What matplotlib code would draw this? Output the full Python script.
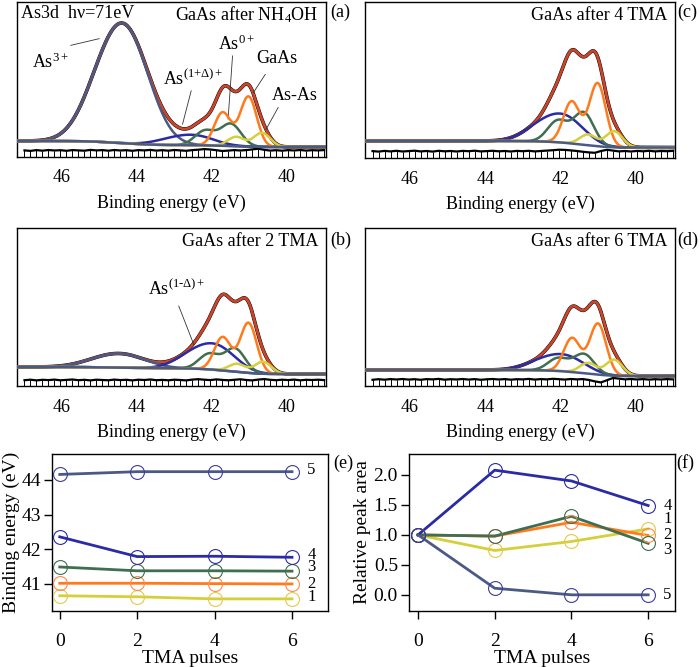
import numpy as np
import matplotlib
matplotlib.use('Agg')
import matplotlib.pyplot as plt

plt.rcParams['font.family'] = ['Liberation Serif', 'DejaVu Serif']
plt.rcParams['mathtext.fontset'] = 'custom'
plt.rcParams['mathtext.rm'] = 'Liberation Serif'
plt.rcParams['mathtext.it'] = 'Liberation Serif:italic'
plt.rcParams['font.size'] = 13

# (e) binding energies of the 3d5/2 components vs TMA pulses
pulses = [0, 2, 4, 6]
be_1 = [40.66, 40.63, 40.57, 40.57]
be_2 = [41.02, 41.02, 41.01, 41.00]
be_3 = [41.49, 41.38, 41.38, 41.37]
be_4 = [42.36, 41.79, 41.80, 41.77]
be_5 = [44.16, 44.24, 44.24, 44.24]

# (f) relative peak areas
area_1 = [1.0, 0.74, 0.89, 1.10]
area_2 = [1.0, 0.98, 1.21, 0.99]
area_3 = [1.0, 0.98, 1.31, 0.86]
area_4 = [1.0, 2.08, 1.90, 1.49]
area_5 = [1.0, 0.11, 0.00, 0.00]

amp_1 = [14, 12, 16, 16]
amp_2 = [50, 50, 63, 51]
amp_3 = [22, 23, 32, 19]
amp_4 = [8, 20, 22, 13]
amp_5 = [85, 10, 0, 0]
sigma = [0.22, 0.22, 0.27, 0.48, 0.58]
bg_left = [16, 19, 17, 16]
bg_right = [10, 12, 10.5, 10]
so_split = 0.69
so_ratio = 2 / 3

# fit residuals (sticks at bottom of each spectrum), 47 -> 39 eV
res_a = [6.6, 6.1, 6.9, 6.3, 7.0, 6.5, 6.8, 6.2, 6.9, 6.6,
         6.3, 7.1, 6.6, 6.9, 6.3, 7.0, 6.5, 6.8, 6.2, 6.9,
         6.6, 7.1, 6.4, 6.8, 6.3, 7.0, 6.6, 6.2, 6.9, 7.3,
         7.9, 7.5, 6.8, 6.0, 6.4, 6.9, 6.5, 6.9, 7.6, 8.3,
         7.2, 6.4, 6.8, 6.3, 6.9, 6.5, 7.0, 6.4, 6.8, 6.6, 6.9]
res_b = [5.8, 6.3, 5.6, 6.2, 5.9, 6.4, 5.7, 6.1, 6.5, 5.8,
         6.2, 5.6, 6.3, 6.0, 5.7, 6.4, 5.9, 6.2, 5.6, 6.3,
         6.0, 6.5, 5.8, 6.1, 5.7, 6.3, 6.0, 5.6, 6.4, 6.8,
         6.3, 5.9, 6.6, 6.1, 5.7, 6.2, 6.7, 6.0, 5.6, 6.4,
         6.9, 6.2, 5.8, 6.3, 5.9, 6.4, 5.7, 6.2, 6.0, 6.3, 5.9]
res_c = [6.9, 6.4, 7.1, 6.6, 7.2, 6.5, 6.9, 7.3, 6.6, 7.0,
         6.4, 7.2, 6.7, 7.0, 6.5, 7.1, 6.8, 7.3, 6.6, 6.9,
         7.2, 6.7, 7.0, 6.5, 7.1, 6.8, 7.2, 6.6, 7.0, 7.4,
         7.8, 8.3, 8.1, 7.6, 7.0, 6.2, 5.6, 5.2, 7.0, 8.2,
         7.4, 6.6, 7.0, 6.5, 7.1, 6.7, 7.2, 6.6, 7.0, 6.8, 7.1]
res_d = [6.2, 6.8, 6.3, 6.9, 6.5, 7.0, 6.4, 6.8, 6.2, 6.9,
         6.6, 7.1, 6.3, 6.8, 6.5, 7.0, 6.4, 6.9, 6.2, 6.7,
         7.0, 6.5, 6.9, 6.3, 6.8, 6.6, 7.1, 6.4, 6.9, 6.6,
         7.2, 6.8, 6.4, 7.0, 6.6, 6.9, 6.0, 4.6, 3.6, 5.8,
         8.0, 7.4, 6.6, 7.0, 6.5, 6.9, 6.4, 6.8, 6.5, 6.9, 6.6]

titles = ['GaAs after NH$_4$OH', 'GaAs after 2 TMA', 'GaAs after 4 TMA', 'GaAs after 6 TMA']
panel_tags = ['(a)', '(b)', '(c)', '(d)']
residuals = [res_a, res_b, res_c, res_d]

colors = ['#d6cf3c', '#ff7a1c', '#3f6e50', '#2b2ba6', '#4b5a84']
marker_colors = ['#e6c84e', '#ff8a4a', '#3f6e50', '#2b2ba6', '#3d3d9e']
env_color = '#c9452b'

be = [be_1, be_2, be_3, be_4, be_5]
amps = [amp_1, amp_2, amp_3, amp_4, amp_5]
areas = [area_1, area_2, area_3, area_4, area_5]

W, H = 700, 667
fig = plt.figure(figsize=(W / 100, H / 100), dpi=100)

def px_axes(l, t, r, b):
    return fig.add_axes([l / W, 1 - b / H, (r - l) / W, (b - t) / H])

ax_a = px_axes(17, 2, 326, 157)
ax_b = px_axes(17, 228, 326, 386)
ax_c = px_axes(365, 2, 675, 158)
ax_d = px_axes(365, 228, 675, 386)
ax_e = px_axes(52, 454, 328, 611)
ax_f = px_axes(409, 454, 675, 611)
spec_axes = [ax_a, ax_b, ax_c, ax_d]
tag_pos = [(330, 17), (330, 245), (677, 17), (677, 245)]

E = np.linspace(38.9, 47.3, 800)

def doublet(e0, a, s):
    return a * (np.exp(-(E - e0) ** 2 / (2 * s * s))
                + so_ratio * np.exp(-(E - e0 - so_split) ** 2 / (2 * s * s)))

for i, ax in enumerate(spec_axes):
    comps = [doublet(be[k][i], amps[k][i], sigma[k]) for k in range(5)]
    total = sum(comps)
    cum = np.cumsum(total)
    bg = bg_right[i] + (bg_left[i] - bg_right[i]) * cum / cum[-1]

    ax.plot(E, bg + total, color='k', lw=2.6, zorder=2)
    ax.plot(E, bg + total, color=env_color, lw=2.0, zorder=3)
    for k in [4, 3, 2, 1, 0]:
        if amps[k][i] > 0:
            ax.plot(E, bg + comps[k], color=colors[k], lw=1.8, zorder=4)
    ax.plot(E, bg, color=colors[4], lw=1.8, zorder=4)

    res = residuals[i]
    er = np.linspace(47, 39, len(res))
    ax.vlines(er, 0, res, color='k', lw=0.7, zorder=2)
    ax.plot(er, res, color='k', lw=1.6, zorder=2)

    ax.set_xlim(47.2, 38.95)
    h = ax.get_position().height * H
    ax.set_ylim(0, h)
    ax.set_yticks([])
    ax.set_xticks([46, 44, 42, 40])
    ax.tick_params(axis='x', length=0, pad=9, labelsize=13)
    ax.set_xlabel('Binding energy (eV)', fontsize=13, labelpad=6)
    for s in ax.spines.values():
        s.set_linewidth(1.0)
    ax.text(0.975, 0.885, titles[i], transform=ax.transAxes, ha='right', va='baseline', fontsize=13)
    fig.text(tag_pos[i][0] / W, 1 - tag_pos[i][1] / H, panel_tags[i], ha='left', va='baseline', fontsize=13)

# annotations in (a)
ax_a.text(0.013, 0.9, 'As3d  h\u03bd=71eV', transform=ax_a.transAxes, ha='left', va='baseline', fontsize=13)
lab_kw = dict(fontsize=13, va='baseline', ha='left')
line_kw = dict(arrowstyle='-', color='#333333', lw=0.6)
ax_a.text(46.8, 89, r'As$^{3+}$', **lab_kw)
ax_a.annotate('', xy=(44.93, 119), xytext=(45.84, 111), arrowprops=line_kw)
ax_a.text(43.31, 72, r'As$^{(1{+}\Delta)+}$', **lab_kw)
ax_a.annotate('', xy=(42.8, 30), xytext=(42.53, 69), arrowprops=line_kw)
ax_a.text(41.84, 107, r'As$^{0+}$', **lab_kw)
ax_a.annotate('', xy=(41.57, 35), xytext=(41.44, 104), arrowprops=line_kw)
ax_a.text(40.8, 94, 'GaAs', **lab_kw)
ax_a.annotate('', xy=(40.93, 62), xytext=(40.53, 85), arrowprops=line_kw)
ax_a.text(40.4, 57, 'As-As', **lab_kw)
ax_a.annotate('', xy=(40.59, 25), xytext=(40.19, 52), arrowprops=line_kw)

# annotation in (b)
ax_b.text(43.71, 90.7, r'As$^{(1\text{-}\Delta)+}$', **lab_kw)
ax_b.annotate('', xy=(42.45, 38.7), xytext=(42.91, 82.7), arrowprops=line_kw)

# (e) and (f)
offs_e = [1, 0, 3, 2, 1]
offs_f = [7, 0, -5, 0, 0]
for ax, series, offs in [(ax_e, be, offs_e), (ax_f, areas, offs_f)]:
    for k in range(5):
        ax.plot(pulses, series[k], color=colors[k], lw=2.0, zorder=2)
        ax.plot(pulses, series[k], 'o', mfc='none', mec=marker_colors[k], ms=10, mew=0.8, zorder=3)
        ax.annotate(str(k + 1), (pulses[-1], series[k][-1]), xytext=(11, offs[k]),
                    textcoords='offset points', va='center', ha='left', fontsize=12)
    ax.set_xticks([0, 2, 4, 6])
    ax.tick_params(direction='out', length=6, width=1, labelsize=14)
    ax.tick_params(axis='x', pad=10)
    ax.tick_params(axis='y', pad=2)
    ax.set_xlabel('TMA pulses', fontsize=14, labelpad=0)
    for s in ax.spines.values():
        s.set_linewidth(1.0)

ax_e.set_xlim(-0.2, 6.93)
ax_e.set_ylim(40.22, 44.75)
ax_e.set_yticks([41, 42, 43, 44])
ax_e.set_ylabel('Binding energy (eV)', fontsize=14, labelpad=1)
ax_f.set_xlim(-0.235, 6.7)
ax_f.set_ylim(-0.27, 2.35)
ax_f.set_yticks([0.0, 0.5, 1.0, 1.5, 2.0])
ax_f.set_yticklabels(['0.0', '0.5', '1.0', '1.5', '2.0'])
ax_f.set_ylabel('Relative peak area', fontsize=14, labelpad=2)
fig.text(333 / W, 1 - 468 / H, '(e)', ha='left', va='baseline', fontsize=13)
fig.text(676 / W, 1 - 468 / H, '(f)', ha='left', va='baseline', fontsize=13)

fig.savefig('out.png', dpi=100)
